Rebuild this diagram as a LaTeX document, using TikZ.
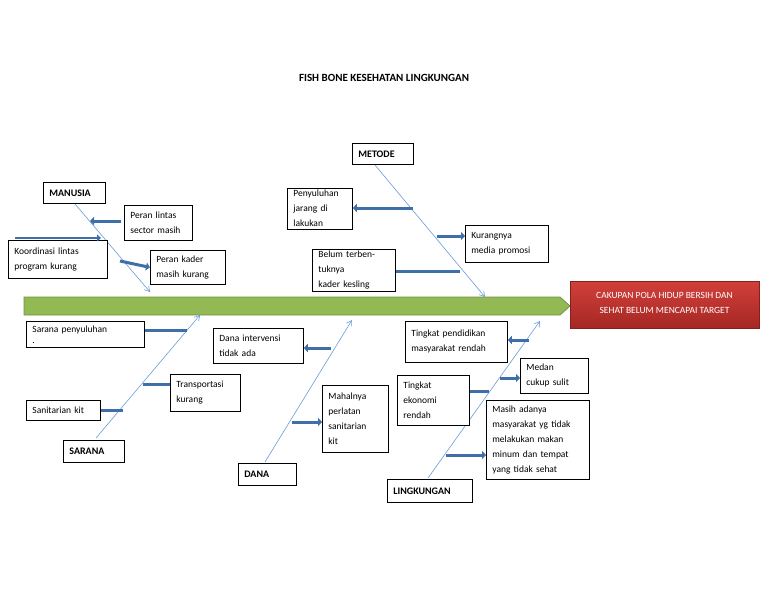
\documentclass[tikz,border=0pt]{standalone}
\usepackage{fontspec}
\setmainfont{Carlito}
\usetikzlibrary{arrows.meta,shapes.arrows}
\definecolor{bone}{HTML}{6A9BD8}
\definecolor{barr}{HTML}{3F6FA8}
\definecolor{spineG}{HTML}{93B954}
\definecolor{spineD}{HTML}{6E9440}
\definecolor{redA}{HTML}{D23F3A}
\definecolor{redB}{HTML}{A52824}
\tikzset{
  box/.style 2 args={draw=black, line width=0.8pt, fill=white, anchor=north west,
    minimum width=#1, minimum height=#2, text width=#1-12, inner xsep=6, inner ysep=2,
    align=left, font=\fontsize{9.5}{15}\selectfont},
  head/.style={draw=black, line width=0.8pt, fill=white, anchor=north west,
    minimum width=#1, minimum height=21, text width=#1-12, inner xsep=6, align=left,
    font=\bfseries\fontsize{10}{12}\selectfont},
  bonel/.style={draw=bone, line width=0.6pt, -{Straight Barb[length=5,width=6]}},
  barrow/.style={draw=barr, line width=3pt, -{Triangle[length=4,width=8]}},
  bline/.style={draw=barr, line width=3pt},
}
\begin{document}
\begin{tikzpicture}[x=1pt,y=-1pt]
\useasboundingbox (0,0) rectangle (768,594);
\node[font=\bfseries\fontsize{11}{13}\selectfont] (title) at (384,78) {FISH BONE KESEHATAN LINGKUNGAN};
% spine
\filldraw[fill=spineG, draw=spineD, line width=0.8pt] (24,297) -- (560,297) -- (570,306) -- (560,315) -- (24,315) -- cycle;
\coordinate (spine) at (560,306);
% effect
\shade[top color=redA, bottom color=redB] (570,281) rectangle (759,328);
\draw[redB!80!black, line width=0.6pt] (570,281) rectangle (759,328);
\node[text=white, align=center, font=\fontsize{9.5}{15}\selectfont] (effect) at (664.5,303) {CAKUPAN POLA HIDUP BERSIH DAN\\SEHAT BELUM MENCAPAI TARGET};
% bones
\coordinate (mEnd) at (150,292); \coordinate (tEnd) at (485,297);
\coordinate (sEnd) at (200,315); \coordinate (dEnd) at (352,320); \coordinate (lEnd) at (540,321);
\draw[bonel] (75,204) -- (mEnd);
\draw[bonel] (375,165) -- (tEnd);
\draw[bonel] (96,438) -- (sEnd);
\draw[bonel] (265,462) -- (dEnd);
\draw[bonel] (428,478) -- (lEnd);
% heads
\node[head=62] (manusia) at (43,182) {MANUSIA};
\node[head=61] (metode) at (352,143) {METODE};
\node[head=61, minimum height=22] (sarana) at (63,440) {SARANA};
\node[head=58, minimum height=22] (dana) at (238,463) {DANA};
\node[head=85, minimum height=23] (lingk) at (387,479) {LINGKUNGAN};
% MANUSIA causes
\node[box={68}{35}] (m1) at (124,205) {Peran lintas\\sector masih};
\node[box={99}{38}] (m2) at (8,240) {Koordinasi lintas\\program kurang};
\node[box={75}{34}] (m3) at (150,250) {Peran kader\\masih kurang};
\draw[barrow] (121,221) -- (90,221);
\coordinate (m2s) at (15,238); \coordinate (m2e) at (101,238);
\draw[barr, line width=2.5pt, -{Triangle[length=4,width=7]}] (m2s) -- (m2e);
\draw[barrow] (120,261) -- (m3.west);
% METODE causes
\node[box={65}{36}] (t1) at (287,188) {Penyuluhan\\jarang di lakukan};
\node[box={83}{37}] (t2) at (465,225) {Kurangnya\\media promosi};
\node[box={83}{38}] (t3) at (312,249) {Belum terbentuknya\\kader kesling};
\draw[barrow] (413,208) -- (t1.east |- 0,208);
\draw[barrow] (437,236) -- (t2.west |- 0,236);
\draw[bline] (460,271) -- (t3.east |- 0,271);
% SARANA causes
\node[box={118}{26}] (s1) at (26,321) {Sarana penyuluhan\\[-4pt].};
\node[box={70}{37}] (s2) at (170,374) {Transportasi\\kurang};
\node[box={74}{20}] (s3) at (26,400) {Sanitarian kit};
\draw[bline] (187,330) -- (s1.east |- 0,330);
\draw[bline] (143,384) -- (s2.west |- 0,384);
\draw[bline] (123,410) -- (s3.east |- 0,410);
% DANA causes
\node[box={90}{35}] (d1) at (213,328) {Dana intervensi\\tidak ada};
\node[box={66}{67}] (d2) at (322,385) {Mahalnya\\perlatan\\sanitarian\\kit};
\draw[barrow] (331,348) -- (d1.east |- 0,348);
\draw[barrow] (292,422) -- (d2.west |- 0,422);
% LINGKUNGAN causes
\node[box={102}{41}] (l1) at (405,321) {Tingkat pendidikan\\masyarakat rendah};
\node[box={68}{35}] (l2) at (520,358) {Medan\\cukup sulit};
\node[box={72}{50}] (l3) at (397,375) {Tingkat\\ekonomi\\rendah};
\node[box={103}{79}] (l4) at (486,400) {Masih adanya\\masyarakat yg tidak\\melakukan makan\\minum dan tempat\\yang tidak sehat};
\draw[barrow] (529,340) -- (l1.east |- 0,340);
\draw[barrow] (500,378) -- (l2.west |- 0,378);
\draw[bline] (489,391) -- (l3.east |- 0,391);
\draw[barrow] (446,455) -- (l4.west |- 0,455);
\end{tikzpicture}
\end{document}
